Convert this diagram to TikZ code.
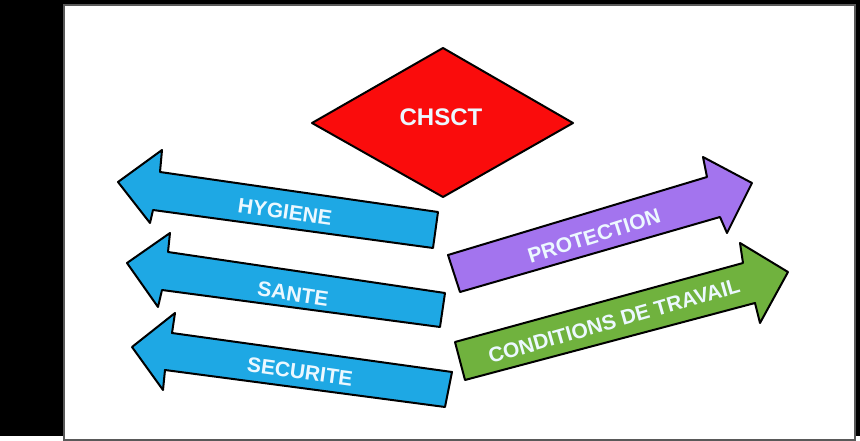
\documentclass[tikz,border=0pt]{standalone}
\usepackage{fontspec}
\setmainfont{Liberation Sans}
\usepackage{xcolor}
\usetikzlibrary{positioning}

\definecolor{skyblue}{RGB}{30,168,228}
\definecolor{chred}{RGB}{250,12,12}
\definecolor{lilac}{RGB}{163,116,238}
\definecolor{leafgreen}{RGB}{112,178,62}
\definecolor{paletext}{RGB}{236,248,255}

\begin{document}
\begin{tikzpicture}[x=1pt, y=-1pt,
    outline/.style={draw=black, line width=2pt, line join=round},
    arrowtext/.style={text=paletext, inner sep=0pt, font=\bfseries\fontsize{21}{21}\selectfont}]
    % Frame: black surround, white panel
    \fill[black] (0,0) rectangle (860,436);
    \filldraw[fill=white, draw=black!65, line width=1.6pt] (64,5) rectangle (855,440);
    \useasboundingbox (0,0) rectangle (860,436);

    % Centre: CHSCT diamond
    \filldraw[outline, fill=chred] (443,48) -- (573,123) -- (443,197) -- (312,123) -- cycle;
    \node[arrowtext, font=\bfseries\fontsize{24}{24}\selectfont] (chsct) at (441,117) {CHSCT};

    % Left: three blue arrows
    \filldraw[outline, fill=skyblue]
        (118,182) -- (162,150) -- (160,172) -- (438,212) -- (433,248) -- (153,210) -- (150,223) -- cycle;
    \node[arrowtext, rotate=-8.2] (hygiene) at (285,212) {HYGIENE};

    \filldraw[outline, fill=skyblue]
        (127,263) -- (170,233) -- (168,252) -- (445,293) -- (440,327) -- (162,290) -- (158,307) -- cycle;
    \node[arrowtext, rotate=-8.4] (sante) at (293,294) {SANTE};

    \filldraw[outline, fill=skyblue]
        (132,347) -- (175,313) -- (172,333) -- (452,372) -- (445,407) -- (165,370) -- (163,390) -- cycle;
    \node[arrowtext, rotate=-7.9] (securite) at (300,372) {SECURITE};

    % Right: purple and green arrows
    \filldraw[outline, fill=lilac]
        (448,255) -- (707,177) -- (703,157) -- (752,183) -- (727,233) -- (720,217) -- (460,292) -- cycle;
    \node[arrowtext, rotate=17.5] (protection) at (594,236) {PROTECTION};

    \filldraw[outline, fill=leafgreen]
        (455,342) -- (743,263) -- (740,243) -- (788,272) -- (760,323) -- (755,303) -- (465,380) -- cycle;
    \node[arrowtext, rotate=16] (conditions) at (614,321) {CONDITIONS DE TRAVAIL};
\end{tikzpicture}
\end{document}
